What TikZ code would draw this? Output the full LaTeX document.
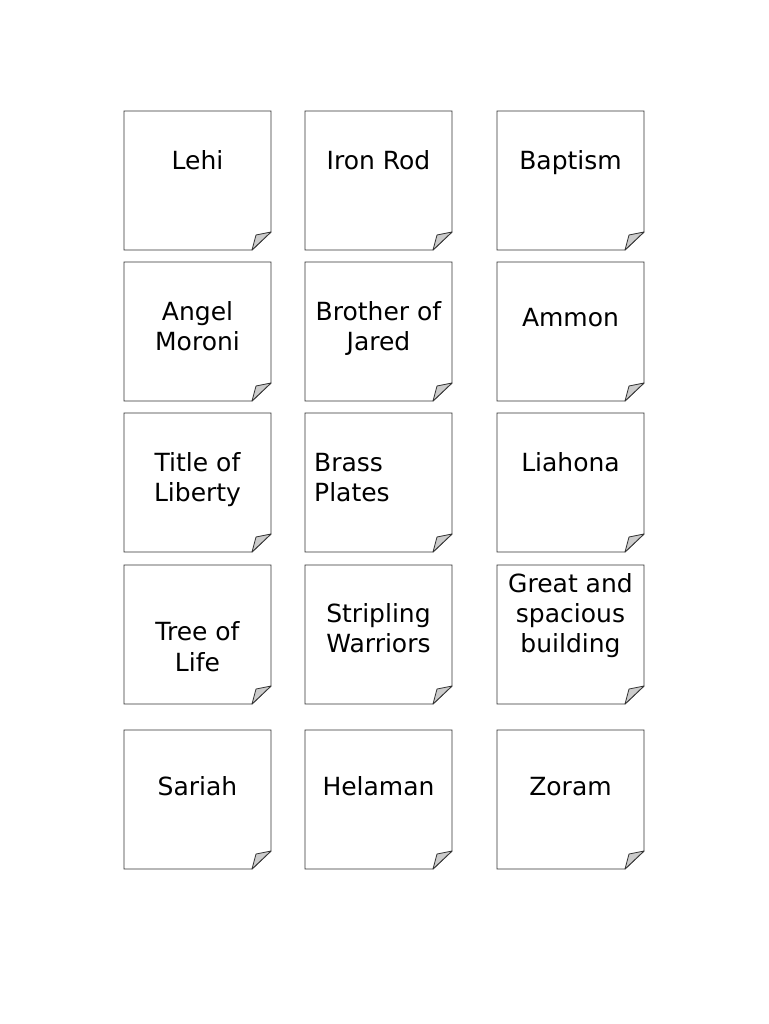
\documentclass[tikz,border=0pt]{standalone}
\usepackage{fontspec}
\setmainfont{DejaVu Sans}
\newfontfamily\cardfont{DejaVu Sans}
\tikzset{
  cardbox/.style={draw=black!80, line width=0.9pt, fill=white},
  foldbox/.style={draw=black!80, line width=0.8pt, fill=black!20, line join=round},
  lbl/.style={font=\cardfont\fontsize{25}{30}\selectfont, anchor=base, inner sep=0pt, text=black},
  lblw/.style={lbl, anchor=base west}
}
\newcommand\drawcard[2]{%
  \draw[cardbox] (#1,#2) -- ++(147,0) -- ++(0,121) -- ++(-19,18) -- ++(-128,0) -- cycle;
  \draw[foldbox] (#1+147,#2+121) .. controls (#1+140,#2+122) .. (#1+132,#2+124)
     .. controls (#1+130,#2+131) .. (#1+128,#2+139) -- cycle;
}
\begin{document}
\begin{tikzpicture}[x=1pt,y=-1pt]
\useasboundingbox[fill=white] (0,0) rectangle (768,1024);
% cards
\foreach \cx in {124,305,497}{
  \foreach \cy in {111,262,413,565,730}{
    \drawcard{\cx}{\cy}
  }
}
% row 1
\node[lbl] (t11) at (197.5,170) {Lehi};
\node[lbl] (t12) at (378.5,170) {Iron Rod};
\node[lbl] (t13) at (570.5,170) {Baptism};
% row 2
\node[lbl] (t21a) at (197.5,320) {Angel};
\node[lbl] (t21b) at (197.5,350) {Moroni};
\node[lbl] (t22a) at (378.5,320) {Brother of};
\node[lbl] (t22b) at (378.5,350) {Jared};
\node[lbl] (t23) at (570.5,326) {Ammon};
% row 3
\node[lbl] (t31a) at (197.5,471) {Title of};
\node[lbl] (t31b) at (197.5,501) {Liberty};
\node[lblw] (t32a) at (314,471) {Brass};
\node[lblw] (t32b) at (314,501) {Plates};
\node[lbl] (t33) at (570.5,471) {Liahona};
% row 4
\node[lbl] (t41a) at (197.5,640) {Tree of};
\node[lbl] (t41b) at (197.5,671) {Life};
\node[lbl] (t42a) at (378.5,622) {Stripling};
\node[lbl] (t42b) at (378.5,652) {Warriors};
\node[lbl] (t43a) at (570.5,592) {Great and};
\node[lbl] (t43b) at (570.5,622) {spacious};
\node[lbl] (t43c) at (570.5,652) {building};
% row 5
\node[lbl] (t51) at (197.5,795) {Sariah};
\node[lbl] (t52) at (378.5,795) {Helaman};
\node[lbl] (t53) at (570.5,795) {Zoram};
\end{tikzpicture}
\end{document}
